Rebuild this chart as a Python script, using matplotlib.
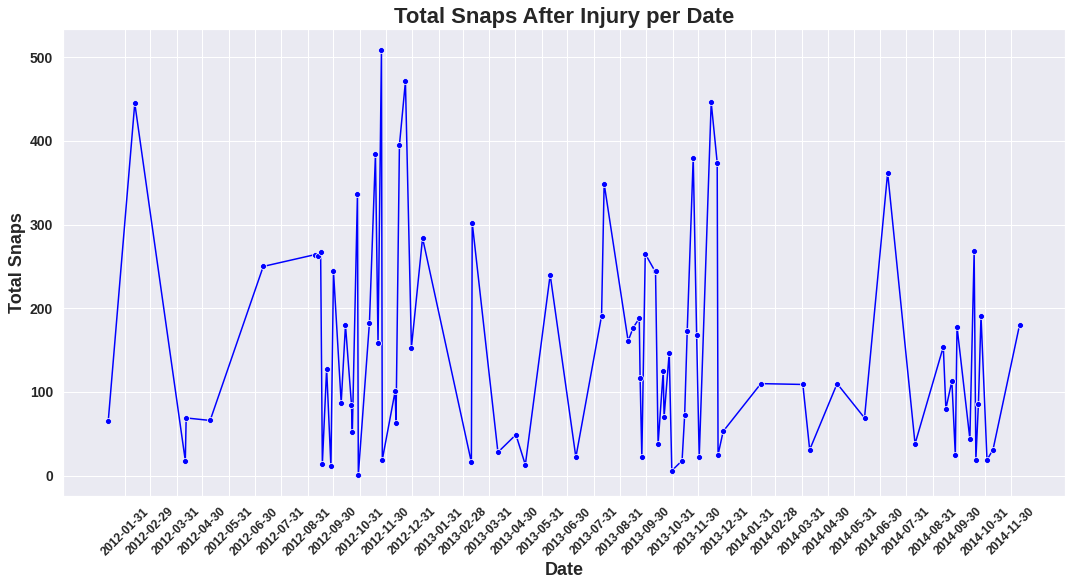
import pandas as pd
import seaborn as sns
import matplotlib.pyplot as plt

# dates of the games after injury and the snaps played
game_dates = [
    '2012-01-11', '2012-02-11', '2012-04-10', '2012-04-11', '2012-05-09',
    '2012-07-10', '2012-09-08', '2012-09-12', '2012-09-15', '2012-09-17',
    '2012-09-22', '2012-09-27', '2012-09-30', '2012-10-09', '2012-10-14',
    '2012-10-21', '2012-10-22', '2012-10-28', '2012-10-29', '2012-11-11',
    '2012-11-18', '2012-11-21', '2012-11-25', '2012-11-26', '2012-12-11',
    '2012-12-12', '2012-12-16', '2012-12-23', '2012-12-30', '2013-01-12',
    '2013-03-10', '2013-03-11', '2013-04-10', '2013-05-01', '2013-05-12',
    '2013-06-10', '2013-07-10', '2013-08-09', '2013-08-12', '2013-09-09',
    '2013-09-15', '2013-09-22', '2013-09-23', '2013-09-25', '2013-09-29',
    '2013-10-10', '2013-10-11', '2013-10-14', '2013-10-20', '2013-10-21',
    '2013-10-27', '2013-10-30', '2013-11-11', '2013-11-14', '2013-11-17',
    '2013-11-24', '2013-11-28', '2013-12-01', '2013-12-15', '2013-12-22',
    '2013-12-23', '2013-12-29', '2014-02-11', '2014-04-01', '2014-04-09',
    '2014-05-11', '2014-06-12', '2014-07-09', '2014-08-10', '2014-09-12',
    '2014-09-15', '2014-09-22', '2014-09-26', '2014-09-28', '2014-10-13',
    '2014-10-18', '2014-10-20', '2014-10-23', '2014-10-26', '2014-11-02',
    '2014-11-09', '2014-12-10',
]
total_snaps = [
    65, 445, 18, 69, 66,
    250, 264, 263, 267, 14,
    128, 11, 244, 87, 180,
    85, 52, 337, 1, 183,
    384, 158, 508, 19, 101,
    63, 395, 471, 153, 284,
    16, 302, 28, 49, 13,
    240, 22, 191, 349, 161,
    177, 188, 117, 22, 265,
    245, 244, 38, 125, 70,
    147, 6, 18, 72, 173,
    380, 168, 22, 446, 374,
    25, 53, 110, 109, 31,
    110, 69, 362, 38, 154,
    80, 113, 25, 178, 44,
    268, 19, 86, 191, 19,
    31, 180,
]

df = pd.DataFrame({'Date': pd.to_datetime(game_dates), 'Total Snaps': total_snaps})

sns.set_theme(style='darkgrid')
plt.rcParams['font.family'] = ['Liberation Sans', 'DejaVu Sans']

fig = plt.figure(figsize=(1071 / 72, 585 / 72), dpi=72)
ax = fig.add_axes([0.0585, 0.152, 0.936, 0.798])

sns.lineplot(data=df, x='Date', y='Total Snaps', marker='o', color='blue', ax=ax)

# un tick por fin de mes
month_ends = pd.date_range('2012-01-31', '2014-11-30', freq='ME')
ax.set_xticks(month_ends)
ax.set_xticklabels([d.strftime('%Y-%m-%d') for d in month_ends],
                   rotation=45, fontsize=12, fontweight='bold')
plt.yticks(fontsize=14, fontweight='bold')

ax.set_title('Total Snaps After Injury per Date', fontsize=22, fontweight='bold')
ax.set_xlabel('Date', fontsize=18, fontweight='bold')
ax.set_ylabel('Total Snaps', fontsize=18, fontweight='bold')

fig.savefig('out.png', dpi=72)
